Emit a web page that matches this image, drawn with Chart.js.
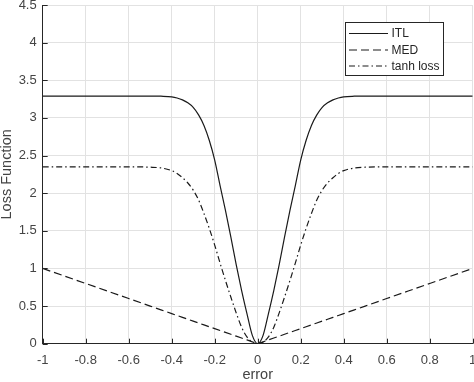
<!DOCTYPE html>
<html>
<head>
<meta charset="utf-8">
<script src="https://cdn.jsdelivr.net/npm/chart.js@4/dist/chart.umd.min.js"></script>
<style>
html,body{margin:0;padding:0;background:#fff;}
#wrap{width:474px;height:382px;}
</style>
</head>
<body>
<div id="wrap"><canvas id="c" width="474" height="382"></canvas></div>
<script>
// ---- data ----
const errorX = [-1,-0.9,-0.8,-0.7,-0.6,-0.5,-0.45,-0.4,-0.375,-0.35,-0.325,-0.3,-0.275,-0.25,-0.225,-0.2,-0.175,-0.15,-0.125,-0.1,-0.075,-0.05,-0.025,0,
  0.025,0.05,0.075,0.1,0.125,0.15,0.175,0.2,0.225,0.25,0.275,0.3,0.325,0.35,0.375,0.4,0.45,0.5,0.6,0.7,0.8,0.9,1];
const itl = [3.29,3.29,3.29,3.29,3.29,3.29,3.288,3.28,3.265,3.24,3.2,3.14,3.04,2.9,2.7,2.44,2.1,1.77,1.42,1.05,0.71,0.4,0.11,0,
  0.11,0.4,0.71,1.05,1.42,1.77,2.1,2.44,2.7,2.9,3.04,3.14,3.2,3.24,3.265,3.28,3.288,3.29,3.29,3.29,3.29,3.29,3.29];
const med = [1,0.9,0.8,0.7,0.6,0.5,0.45,0.4,0.375,0.35,0.325,0.3,0.275,0.25,0.225,0.2,0.175,0.15,0.125,0.1,0.075,0.05,0.025,0,
  0.025,0.05,0.075,0.1,0.125,0.15,0.175,0.2,0.225,0.25,0.275,0.3,0.325,0.35,0.375,0.4,0.45,0.5,0.6,0.7,0.8,0.9,1];
const tanhLoss = [2.35,2.35,2.35,2.35,2.35,2.345,2.335,2.3,2.262,2.205,2.135,2.04,1.91,1.73,1.53,1.31,1.07,0.84,0.62,0.41,0.22,0.09,0.02,0,
  0.02,0.09,0.22,0.41,0.62,0.84,1.07,1.31,1.53,1.73,1.91,2.04,2.135,2.205,2.262,2.3,2.335,2.345,2.35,2.35,2.35,2.35,2.35];
const seriesNames = ['ITL','MED','tanh loss'];
const xTicks = [-1,-0.8,-0.6,-0.4,-0.2,0,0.2,0.4,0.6,0.8,1];
const yTicks = [0,0.5,1,1.5,2,2.5,3,3.5,4,4.5];
const xTitle = 'error';
const yTitle = 'Loss Function';

const FONT = '"Liberation Sans", Arial, Helvetica, sans-serif';
const AXIS = '#262626';
const TEXT = '#444444';
const LINE = '#1a1a1a';

function pts(ys){ return errorX.map((x,i)=>({x:x,y:ys[i]})); }

const innerTicks = {
  id:'innerTicks',
  afterDatasetsDraw(chart){
    const ctx = chart.ctx, a = chart.chartArea;
    const xs = chart.scales.x, ys = chart.scales.y;
    ctx.save();
    ctx.strokeStyle = AXIS; ctx.lineWidth = 1;
    ctx.beginPath();
    xTicks.forEach(v=>{ const px = Math.round(xs.getPixelForValue(v))+0.5; ctx.moveTo(px,a.bottom); ctx.lineTo(px,a.bottom-5); });
    yTicks.forEach(v=>{ const py = Math.round(ys.getPixelForValue(v))+0.5; ctx.moveTo(a.left,py); ctx.lineTo(a.left+5,py); });
    ctx.stroke();
    ctx.restore();
  }
};

const boxLegend = {
  id:'boxLegend',
  afterDatasetsDraw(chart){
    const ctx = chart.ctx;
    const x0 = 345.5, y0 = 22.5, w = 98, h = 53;
    ctx.save();
    ctx.fillStyle = '#fff';
    ctx.fillRect(x0,y0,w,h);
    ctx.strokeStyle = AXIS; ctx.lineWidth = 1;
    ctx.strokeRect(x0,y0,w,h);
    ctx.font = '12px ' + FONT;
    ctx.textBaseline = 'middle';
    ctx.fillStyle = AXIS;
    const rows = [33.5,50,66];
    chart.data.datasets.forEach((ds,i)=>{
      const y = rows[i];
      ctx.strokeStyle = LINE; ctx.lineWidth = 1.2;
      ctx.setLineDash(ds.borderDash || []);
      ctx.beginPath(); ctx.moveTo(349,y); ctx.lineTo(388,y); ctx.stroke();
      ctx.setLineDash([]);
      ctx.fillText(ds.label, 391.5, y+0.5);
    });
    ctx.restore();
  }
};

new Chart(document.getElementById('c'), {
  type:'line',
  data:{
    datasets:[
      {label:seriesNames[0], data:pts(itl), borderColor:LINE, borderWidth:1.2, pointRadius:0, cubicInterpolationMode:'monotone', borderDash:[]},
      {label:seriesNames[1], data:pts(med), borderColor:LINE, borderWidth:1.2, pointRadius:0, tension:0, borderDash:[8,4]},
      {label:seriesNames[2], data:pts(tanhLoss), borderColor:LINE, borderWidth:1.2, pointRadius:0, cubicInterpolationMode:'monotone', borderDash:[6,3,1.5,3]}
    ]
  },
  options:{
    responsive:false,
    animation:false,
    devicePixelRatio:1,
    layout:{padding:{top:5,right:1.3,left:0,bottom:0}},
    plugins:{legend:{display:false}, tooltip:{enabled:false}},
    scales:{
      x:{
        type:'linear', min:-1, max:1,
        afterBuildTicks(s){ s.ticks = xTicks.map(v=>({value:v})); },
        afterFit(s){ s.height = 38.3; s.paddingLeft = 0; s.paddingRight = 0; },
        ticks:{ color:TEXT, font:{family:FONT,size:13}, padding:9, maxRotation:0, autoSkip:false,
          callback:(v)=>String(v) },
        grid:{ color:'#e2e2e2', drawTicks:false, lineWidth:1 },
        border:{ display:true, color:AXIS, width:1 },
        title:{ display:true, text:xTitle, color:TEXT, font:{family:FONT,size:14.5,lineHeight:1}, padding:{top:-1,bottom:0} }
      },
      y:{
        type:'linear', min:0, max:4.5,
        afterBuildTicks(s){ s.ticks = yTicks.map(v=>({value:v})); },
        afterFit(s){ s.width = 42.7; s.paddingTop = 0; s.paddingBottom = 0; },
        ticks:{ color:TEXT, font:{family:FONT,size:13}, padding:6, autoSkip:false,
          callback:(v)=>String(v) },
        grid:{ color:'#e2e2e2', drawTicks:false, lineWidth:1 },
        border:{ display:true, color:AXIS, width:1 },
        title:{ display:true, text:yTitle, color:TEXT, font:{family:FONT,size:14.5,lineHeight:1}, padding:{top:0,bottom:0} }
      }
    }
  },
  plugins:[innerTicks, boxLegend]
});
</script>
</body>
</html>
